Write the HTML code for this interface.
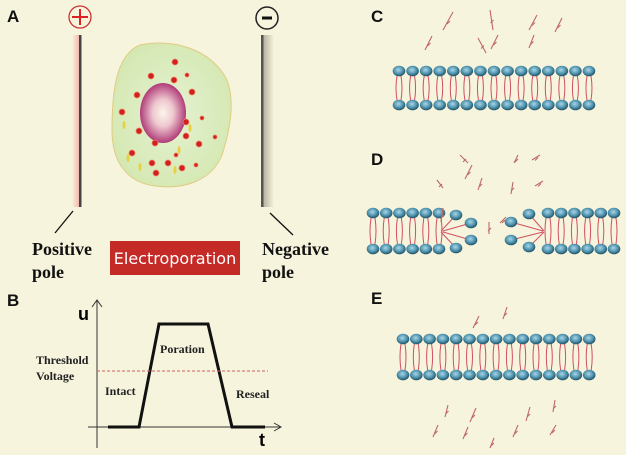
<!DOCTYPE html>
<html><head><meta charset="utf-8"><style>
html,body{margin:0;padding:0;background:#f6f4dd;}
svg{display:block}
</style></head><body>
<svg id="s" width="626" height="455" viewBox="0 0 626 455" xmlns="http://www.w3.org/2000/svg">
<defs>
<radialGradient id="head" cx="45%" cy="40%" r="60%"><stop offset="0" stop-color="#a9d6e8"/><stop offset="0.6" stop-color="#4f93ad"/><stop offset="1" stop-color="#1f4e63"/></radialGradient>
<radialGradient id="nuc" cx="50%" cy="50%" r="50%"><stop offset="0" stop-color="#fbf6ea"/><stop offset="0.45" stop-color="#eec8d0"/><stop offset="1" stop-color="#b03c78"/></radialGradient>
<radialGradient id="cell" cx="50%" cy="50%" r="55%"><stop offset="0" stop-color="#e6f2d2"/><stop offset="1" stop-color="#d4e8b2"/></radialGradient>
<linearGradient id="pg" x1="0" x2="1"><stop offset="0" stop-color="#f6f4dd"/><stop offset="1" stop-color="#f0a8a0"/></linearGradient>
<linearGradient id="ng" x1="0" x2="1"><stop offset="0" stop-color="#b0a898"/><stop offset="1" stop-color="#f6f4dd"/></linearGradient>
</defs>
<g font-family="Liberation Sans, sans-serif" font-weight="bold" font-size="17" fill="#111">
<text x="7" y="22">A</text><text x="7" y="306">B</text>
<text x="371" y="22">C</text><text x="371" y="165">D</text><text x="371" y="304">E</text>
</g>
<!-- Panel A -->
<circle cx="80" cy="17" r="11" fill="none" stroke="#c33" stroke-width="1.3"/>
<path d="M72 17H88M80 9V25" stroke="#d22" stroke-width="2"/>
<circle cx="267" cy="18" r="11" fill="none" stroke="#222" stroke-width="1.5"/>
<path d="M262 18H272" stroke="#111" stroke-width="3"/>
<rect x="72" y="35" width="9" height="172" fill="url(#pg)"/>
<rect x="79" y="35" width="2.5" height="172" fill="#444"/>
<rect x="262" y="35" width="12" height="172" fill="url(#ng)"/>
<rect x="261" y="35" width="2.5" height="172" fill="#555"/>
<path d="M73 211L55 233M270 213L293 235" stroke="#111" stroke-width="1.3"/>
<path d="M140 45C175 38 210 50 226 78C236 100 230 130 222 155C212 180 185 190 155 186C125 182 112 160 112 130C112 95 115 55 140 45Z" fill="url(#cell)" stroke="#e0cc80" stroke-width="1"/>
<ellipse cx="163" cy="113" rx="23" ry="30" fill="url(#nuc)"/>
<g fill="#d02020" id="dots"></g>
<g font-family="Liberation Serif, serif" font-weight="bold" font-size="18" fill="#111">
<text x="32" y="255">Positive</text><text x="32" y="278">pole</text>
<text x="262" y="255">Negative</text><text x="262" y="278">pole</text>
</g>
<rect x="110" y="241" width="130" height="34" fill="#c42a26"/>
<text x="175" y="264" text-anchor="middle" font-family="DejaVu Sans, sans-serif" font-size="16" fill="#fff">Electroporation</text>
<!-- Panel B -->
<path d="M97 448V301M92 307L97 300L102 307" stroke="#333" stroke-width="1" fill="none"/>
<path d="M88 427H280M274 423L281 427L274 431" stroke="#333" stroke-width="1" fill="none"/>
<text x="78" y="320" font-family="Liberation Sans, sans-serif" font-weight="bold" font-size="18">u</text>
<text x="259" y="446" font-family="Liberation Sans, sans-serif" font-weight="bold" font-size="18">t</text>
<path d="M108 427H139L159 324H208L232 427H265" stroke="#111" stroke-width="3" fill="none"/>
<path d="M97 371H268" stroke="#d06060" stroke-width="1" stroke-dasharray="3,2"/>
<g font-family="Liberation Serif, serif" font-weight="bold" font-size="12" fill="#222">
<text x="36" y="364">Threshold</text><text x="36" y="380">Voltage</text>
<text x="105" y="395">Intact</text><text x="160" y="353">Poration</text><text x="236" y="398">Reseal</text>
</g>
<g id="mem"></g>
</svg>
<script>
var NS="http://www.w3.org/2000/svg",m=document.getElementById('mem');
function el(t,a,p){var e=document.createElementNS(NS,t);for(var k in a)e.setAttribute(k,a[k]);(p||m).appendChild(e);return e;}
function head(x,y){el('ellipse',{cx:x,cy:y,rx:6.3,ry:5.3,fill:'url(#head)'});}
function lipid(x,y1,y2){el('path',{d:'M'+(x-2)+' '+(y1+5)+'Q'+(x-4)+' '+((y1+y2)/2)+' '+(x-2)+' '+(y2-5)+'M'+(x+2)+' '+(y1+5)+'Q'+(x+4)+' '+((y1+y2)/2)+' '+(x+2)+' '+(y2-5),stroke:'#d05060','stroke-width':1,fill:'none'});head(x,y1);head(x,y2);}
function row(x0,n,dx,y1,y2){for(var i=0;i<n;i++)lipid(x0+i*dx,y1,y2);}
row(399,15,13.57,71,105);
row(403,15,13.3,339,375);
row(373,6,13.2,213,249);row(548,6,13.2,213,249);
// pore lipids
[[456,215,441,231],[471,223,443,231],[471,240,443,232],[456,248,441,232],[529,214,544,231],[511,222,543,231],[511,240,543,232],[529,247,544,232]].forEach(function(p){
el('path',{d:'M'+p[0]+' '+p[1]+'L'+p[2]+' '+p[3],stroke:'#d05060','stroke-width':1});});
[[456,215],[471,223],[471,240],[456,248],[529,214],[511,222],[511,240],[529,247]].forEach(function(p){head(p[0],p[1]);});
// DNA fragments
var f=[[453,12,-10,18],[490,10,3,20],[537,15,-8,15],[562,18,-7,14],[432,36,-7,14],[478,38,8,15],[498,35,-7,14],[534,35,-5,13],
[460,155,8,8],[472,165,-7,14],[518,155,-4,8],[540,155,-8,5],[437,180,6,8],[482,178,-4,12],[513,182,-2,12],[443,208,-2,14],[489,222,0,12],[506,217,-6,6],[543,181,-8,5],
[479,316,-6,12],[507,307,-4,12],[448,405,-3,12],[476,408,-6,14],[530,407,-4,14],[555,400,-2,12],[438,425,-5,12],[468,427,-5,12],[518,425,-5,12],[556,425,-6,10],[494,438,-4,10]];
f.forEach(function(a){el('path',{d:'M'+a[0]+' '+a[1]+'l'+a[2]+' '+a[3]+'m'+(-a[2]*0.5+2)+' '+(-a[3]*0.5)+'l-3 3',stroke:'#c06868','stroke-width':1.1,fill:'none'});});
var d=document.getElementById('dots');
[[175,62],[151,76],[174,80],[187,75],[192,92],[137,95],[122,112],[202,118],[186,122],[139,131],[186,136],[215,137],[155,143],[199,144],[132,153],[176,155],[152,163],[168,163],[182,168],[196,165],[156,173]].forEach(function(p,i){el('circle',{cx:p[0],cy:p[1],r:i%4==3?2:3,fill:'#d02020',stroke:'#f08060','stroke-width':0.8},d);});
[[124,125],[190,128],[179,150],[128,158],[140,167],[175,170]].forEach(function(p){el('ellipse',{cx:p[0],cy:p[1],rx:1.5,ry:4,fill:'#e8d040'},d);});
</script>
</body></html>
